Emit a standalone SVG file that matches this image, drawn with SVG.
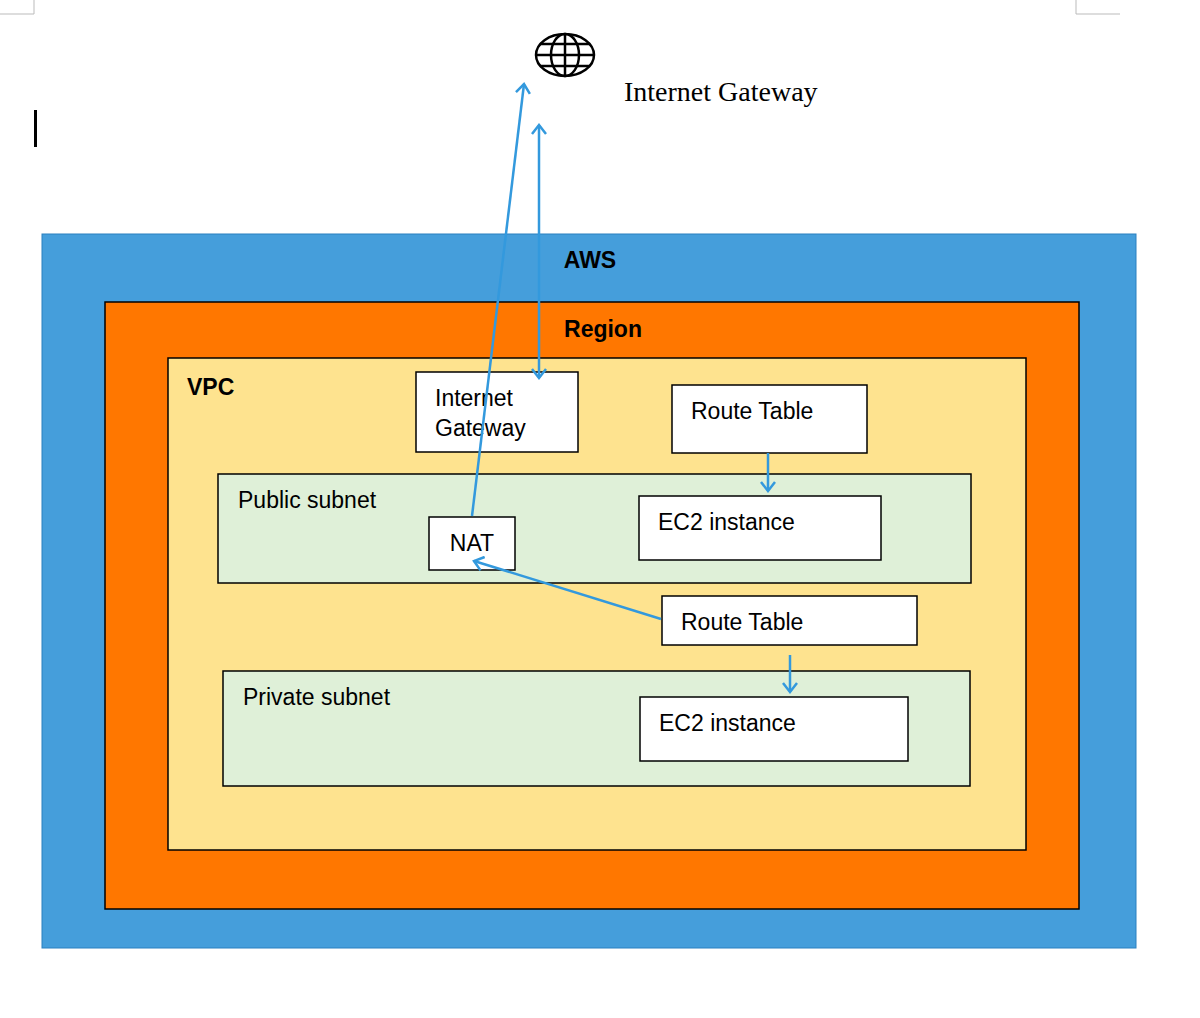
<svg xmlns="http://www.w3.org/2000/svg" width="1200" height="1018" viewBox="0 0 1200 1018">
<style>
.b{stroke:#000;stroke-width:1.5}
.t{font-family:"Liberation Sans",Arial,sans-serif;font-size:23px;fill:#000}
.h{font-family:"Liberation Sans",Arial,sans-serif;font-size:23px;font-weight:bold;fill:#000}
.c{stroke:#3399dd;stroke-width:2.5;fill:none}
.m{stroke:#3399dd;stroke-width:2.5;fill:none}
</style>
<defs>
<marker id="a" viewBox="-10 -8 12 16" refX="0" refY="0" markerWidth="12" markerHeight="16" markerUnits="userSpaceOnUse" orient="auto-start-reverse">
<path d="M-9,-7 L0,0 L-9,7" class="m"/>
</marker>
</defs>
<rect width="1200" height="1018" fill="#fff"/>
<g id="page-marks" stroke="#bbb" fill="none">
<path d="M0,14 H34 V0"/><path d="M1076,0 V14 H1120"/>
</g>
<rect x="34" y="110" width="3" height="37" fill="#000"/>
<g id="internet">
<ellipse cx="565" cy="55" rx="29" ry="21" fill="none" stroke="#000" stroke-width="2.5"/>
<ellipse cx="565" cy="55" rx="14" ry="21" fill="none" stroke="#000" stroke-width="2.5"/>
<path d="M565,34 V76 M536,55 H594 M540,44 H590 M540,66 H590" stroke="#000" stroke-width="2.5"/>
<text x="624" y="101" font-family="Liberation Serif,serif" font-size="28">Internet Gateway</text>
</g>
<g id="aws"><rect x="42" y="234" width="1094" height="714" fill="#459edb" stroke="#2a80c0"/><text x="590" y="268" class="h" text-anchor="middle">AWS</text></g>
<g id="region"><rect x="105" y="302" width="974" height="607" fill="#ff7700" class="b"/><text x="603" y="337" class="h" text-anchor="middle">Region</text></g>
<g id="vpc"><rect x="168" y="358" width="858" height="492" fill="#fee38f" class="b"/><text x="187" y="395" class="h" font-size="25">VPC</text></g>
<g id="public-subnet"><rect x="218" y="474" width="753" height="109" fill="#dff0d8" class="b"/><text x="238" y="508" class="t">Public subnet</text></g>
<g id="private-subnet"><rect x="223" y="671" width="747" height="115" fill="#dff0d8" class="b"/><text x="243" y="705" class="t">Private subnet</text></g>
<g id="igw"><rect x="416" y="372" width="162" height="80" fill="#fff" class="b"/><text x="435" y="406" class="t">Internet</text><text x="435" y="436" class="t">Gateway</text></g>
<g id="rt1"><rect x="672" y="385" width="195" height="68" fill="#fff" class="b"/><text x="691" y="419" class="t">Route Table</text></g>
<g id="ec2-public"><rect x="639" y="496" width="242" height="64" fill="#fff" class="b"/><text x="658" y="530" class="t">EC2 instance</text></g>
<g id="nat"><rect x="429" y="517" width="86" height="53" fill="#fff" class="b"/><text x="472" y="551" class="t" text-anchor="middle">NAT</text></g>
<g id="rt2"><rect x="662" y="596" width="255" height="49" fill="#fff" class="b"/><text x="681" y="630" class="t">Route Table</text></g>
<g id="ec2-private"><rect x="640" y="697" width="268" height="64" fill="#fff" class="b"/><text x="659" y="731" class="t">EC2 instance</text></g>
<g id="connectors">
<line x1="472" y1="516" x2="524" y2="84" class="c" marker-end="url(#a)"/>
<line x1="539" y1="378" x2="539" y2="125" class="c" marker-start="url(#a)" marker-end="url(#a)"/>
<line x1="768" y1="453" x2="768" y2="491" class="c" marker-end="url(#a)"/>
<line x1="661" y1="619" x2="474" y2="561" class="c" marker-end="url(#a)"/>
<line x1="790" y1="655" x2="790" y2="692" class="c" marker-end="url(#a)"/>
</g>
</svg>
